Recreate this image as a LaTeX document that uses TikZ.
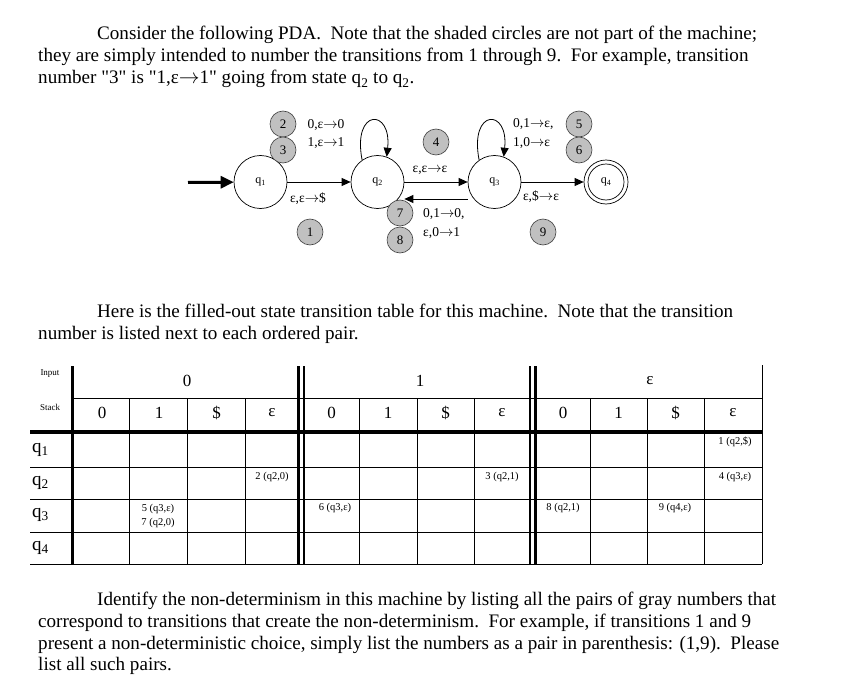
\documentclass[tikz,border=0pt]{standalone}
\usepackage{fontspec}
\setmainfont{Liberation Serif}
\usetikzlibrary{arrows.meta,calc}
\definecolor{numgray}{RGB}{192,192,192}
\newcommand\rarr{\ensuremath{\rightarrow}}
\newcommand\sq{\textquotedbl}
\begin{document}
\begin{tikzpicture}[x=1pt,y=-1pt,
  para/.style={anchor=base west, inner sep=0, text height=13pt, text depth=4pt, font=\fontsize{19.1}{21}\selectfont},
  state/.style={circle, draw, line width=0.7pt, minimum size=53pt, inner sep=0, font=\fontsize{12}{14}\selectfont},
  num/.style={circle, draw=black!75, line width=0.6pt, fill=numgray, minimum size=26pt, inner sep=0, font=\fontsize{13}{15}\selectfont},
  lbl/.style={inner sep=0, font=\fontsize{13.5}{15}\selectfont},
  arr/.style={-{Triangle[length=9pt,width=8pt]}, line width=0.8pt},
  startarr/.style={-{Triangle[length=13pt,width=12pt]}, line width=3pt},
  thin/.style={line width=1pt},
  hd/.style={inner sep=0, font=\fontsize{17}{19}\selectfont},
  tiny/.style={inner sep=0, font=\fontsize{9}{11}\selectfont},
  cell/.style={inner sep=0, font=\fontsize{10.5}{12}\selectfont},
  rowq/.style={inner sep=0, anchor=west, font=\fontsize{19}{21}\selectfont}]
\useasboundingbox (0,0) rectangle (858,679);

% ---------- paragraph 1
\node[para] (p1a) at (97,40) {Consider the following PDA.\ \ Note that the shaded circles are not part of the machine;};
\node[para] (p1b) at (38,62) {they are simply intended to number the transitions from 1 through 9.\ \ For example, transition};
\node[para] (p1c) at (38,84) {number \sq3\sq{} is \sq1,ε\rarr1\sq{} going from state q\textsubscript{2} to q\textsubscript{2}.};

% ---------- PDA
\node[state] (q1) at (260.5,182) {q\textsubscript{1}};
\node[state] (q2) at (377.5,182) {q\textsubscript{2}};
\node[state] (q3) at (494.5,182) {q\textsubscript{3}};
\node[state, minimum size=44pt] (q4) at (606,182) {q\textsubscript{4}};
\node[circle, draw, line width=0.7pt, minimum size=36pt, inner sep=0] (q4i) at (q4) {};

\coordinate (start) at (188,182.5);
\draw[startarr] (start) -- (q1);
\draw[arr] (q1) -- (q2);
\draw[arr] (q2) -- (q3);
\draw[arr] (q3) -- (q4);
\draw[arr] ([yshift=-17pt]q3.west) -- ([yshift=-17pt]q2.east);
\draw[arr] (q2.125) .. controls (352,108) and (392,108) .. (q2.70);
\draw[arr] (q3.125) .. controls (469,108) and (509,108) .. (q3.70);

\node[lbl] (l2) at (326,125) {0,ε\rarr0};
\node[lbl] (l3) at (326,143) {1,ε\rarr1};
\node[lbl] (l1) at (308,199) {ε,ε\rarr\$};
\node[lbl] (l4) at (430,170) {ε,ε\rarr ε};
\node[lbl, anchor=west] (l7) at (423,214) {0,1\rarr0,};
\node[lbl, anchor=west] (l8) at (423,233) {ε,0\rarr1};
\node[lbl, anchor=west] (l5) at (513,124) {0,1\rarr ε,};
\node[lbl, anchor=west] (l6) at (513,143) {1,0\rarr ε};
\node[lbl] (l9) at (541,197) {ε,\$\rarr ε};

\node[num] (n1) at (310,232) {1};
\node[num] (n2) at (283,124) {2};
\node[num] (n3) at (283,150) {3};
\node[num] (n4) at (436,142) {4};
\node[num] (n5) at (579,124) {5};
\node[num] (n6) at (579,150) {6};
\node[num] (n7) at (400,213) {7};
\node[num] (n8) at (400,240) {8};
\node[num] (n9) at (543,232) {9};

% ---------- paragraph 2
\node[para] (p2a) at (97,317) {Here is the filled-out state transition table for this machine.\ \ Note that the transition};
\node[para] (p2b) at (38,339) {number is listed next to each ordered pair.};

% ---------- table
\draw[thin] (72.5,398) -- (762,398);
\foreach \y in {467,499,532,564} \draw[thin] (30,\y) -- (762,\y);
\draw[line width=3.5pt] (30,432) -- (762,432);
\foreach \x in {129,187,245,359,417,474,590,647,704} \draw[thin] (\x,398) -- (\x,564);
\draw[thin] (762,365) -- (762,564);
\foreach \x in {72.5,298.5,304,530,535.5} \draw[line width=2.7pt] (\x,366) -- (\x,564);

\node[tiny] (tin) at (50,374) {Input};
\node[tiny] (tst) at (50,407) {Stack};
\node[hd] (g0) at (187,381) {0};
\node[hd] (g1) at (420,381) {1};
\node[hd] (g2) at (650,381) {ε};
\foreach \x/\s [count=\i] in {102/0,159/1,216.5/\$,272/ε,331.5/0,388/1,445.5/\$,502/ε,563/0,618.5/1,675.5/\$,733/ε}
  \node[hd] (s\i) at (\x,413) {\s};

\node[rowq] (r1) at (32,450) {q\textsubscript{1}};
\node[rowq] (r2) at (32,483) {q\textsubscript{2}};
\node[rowq] (r3) at (32,515) {q\textsubscript{3}};
\node[rowq] (r4) at (32,548) {q\textsubscript{4}};

\node[cell] (c1) at (735,442) {1 (q2,\$)};
\node[cell] (c2) at (272,477) {2 (q2,0)};
\node[cell] (c3) at (502,477) {3 (q2,1)};
\node[cell] (c4) at (735,477) {4 (q3,ε)};
\node[cell] (c5) at (158,509) {5 (q3,ε)};
\node[cell] (c7) at (158,523) {7 (q2,0)};
\node[cell] (c6) at (335,508) {6 (q3,ε)};
\node[cell] (c8) at (563,508) {8 (q2,1)};
\node[cell] (c9) at (675,508) {9 (q4,ε)};

% ---------- paragraph 3
\node[para] (p3a) at (97,605) {Identify the non-determinism in this machine by listing all the pairs of gray numbers that};
\node[para] (p3b) at (38,627) {correspond to transitions that create the non-determinism.\ \ For example, if transitions 1 and 9};
\node[para] (p3c) at (38,649) {present a non-deterministic choice, simply list the numbers as a pair in parenthesis: (1,9).\ \ Please};
\node[para] (p3d) at (38,670) {list all such pairs.};
\end{tikzpicture}
\end{document}
